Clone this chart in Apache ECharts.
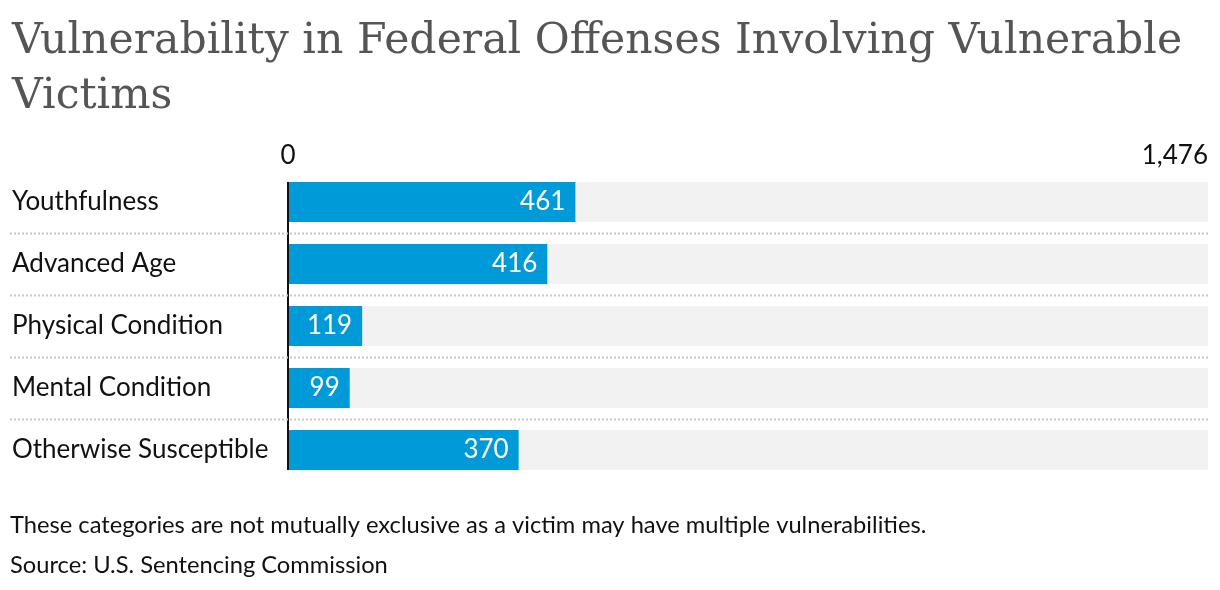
<!DOCTYPE html>
<html>
<head>
<meta charset="utf-8">
<script src="https://cdn.jsdelivr.net/npm/echarts@6/dist/echarts.min.js"></script>
<style>
  html, body { margin: 0; padding: 0; background: #fff; }
  #chart { width: 1220px; height: 590px; }
</style>
</head>
<body>
<div id="chart"></div>
<script>
// 数据
var categories = ['Youthfulness', 'Advanced Age', 'Physical Condition', 'Mental Condition', 'Otherwise Susceptible'];
var counts = [461, 416, 119, 99, 370];
var axisMax = 1476;

var barW = 40;
var chart = echarts.init(document.getElementById('chart'));

// 分隔线 + 竖轴线
function renderGuides(params, api) {
  var idx = api.value(0);
  var c = api.coord([0, idx]);
  var band = api.size([0, 1])[1];
  var right = api.coord([axisMax, idx])[0];
  var top = c[1] - barW / 2;
  var bottom = idx < categories.length - 1 ? c[1] + band - barW / 2 : c[1] + barW / 2;
  var children = [{
    type: 'line',
    shape: { x1: c[0], y1: top, x2: c[0], y2: bottom },
    style: { stroke: '#111', lineWidth: 2 }
  }];
  if (idx < categories.length - 1) {
    var y = Math.round(c[1] + band / 2) + 0.5;
    children.push({
      type: 'line',
      shape: { x1: 10, y1: y, x2: right, y2: y },
      style: { stroke: '#c8c8c8', lineWidth: 2, lineDash: [2, 2] }
    });
  }
  return { type: 'group', children: children };
}

var option = {
  animation: false,
  textStyle: { fontFamily: 'Lato' },
  title: {
    text: 'Vulnerability in Federal Offenses Involving Vulnerable\nVictims',
    left: 7,
    top: 9,
    textStyle: {
      fontFamily: 'DejaVu Serif',
      fontSize: 42.6,
      fontWeight: 'normal',
      color: '#555',
      lineHeight: 55
    }
  },
  grid: { left: 288, right: 12, top: 171, height: 310 },
  xAxis: {
    type: 'value',
    position: 'top',
    min: 0,
    max: axisMax,
    interval: axisMax,
    axisLine: { show: false },
    axisTick: { show: false },
    splitLine: { show: false },
    axisLabel: {
      color: '#111',
      fontSize: 26,
      margin: 2,
      alignMinLabel: 'center',
      alignMaxLabel: 'right',
      formatter: function (v) { return v.toLocaleString('en-US'); }
    }
  },
  yAxis: {
    type: 'category',
    data: categories,
    inverse: true,
    axisLine: { show: false },
    axisTick: { show: false },
    axisLabel: { color: '#111', fontSize: 26, align: 'left', margin: 276 }
  },
  series: [
    {
      type: 'bar',
      data: counts,
      barWidth: barW,
      itemStyle: { color: '#009ad9' },
      showBackground: true,
      backgroundStyle: { color: '#f2f2f2' },
      label: {
        show: true,
        position: 'insideRight',
        distance: 10,
        color: '#fff',
        fontSize: 26
      },
      z: 2
    },
    {
      type: 'custom',
      renderItem: renderGuides,
      data: categories.map(function (c, i) { return [i]; }),
      encode: { y: 0 },
      silent: true,
      z: 3
    }
  ],
  graphic: [
    {
      type: 'text',
      left: 10,
      top: 513,
      style: {
        text: 'These categories are not mutually exclusive as a victim may have multiple vulnerabilities.',
        font: '23.7px Lato',
        fill: '#111'
      }
    },
    {
      type: 'text',
      left: 10,
      top: 553,
      style: {
        text: 'Source: U.S. Sentencing Commission',
        font: '23.7px Lato',
        fill: '#111'
      }
    }
  ]
};
chart.setOption(option);
</script>
</body>
</html>
